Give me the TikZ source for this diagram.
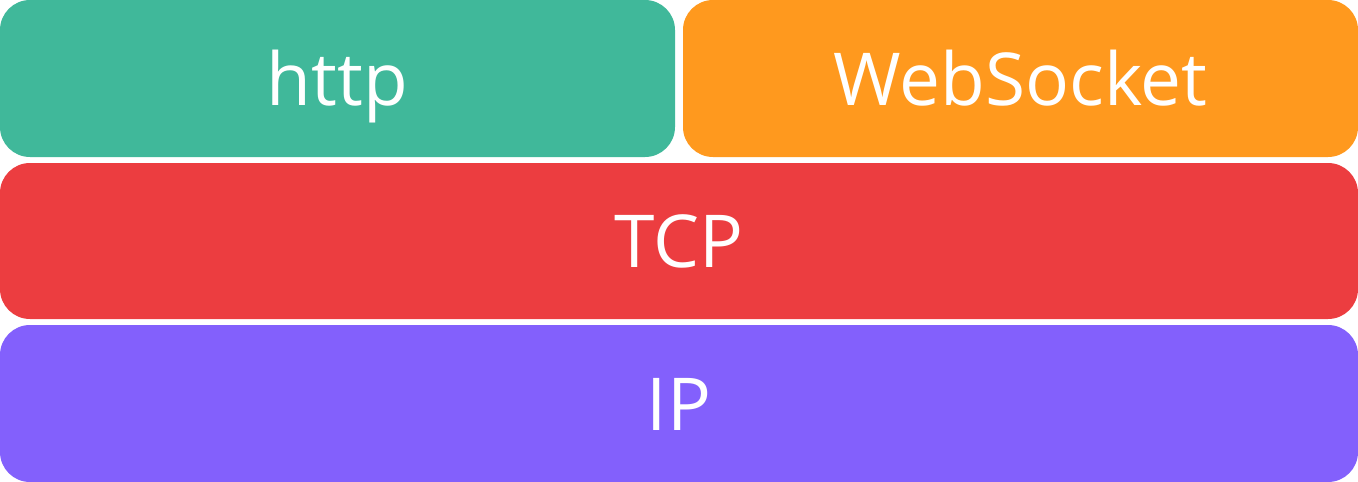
\documentclass[tikz,border=0pt]{standalone}
\usepackage{fontspec}
\setmainfont{Open Sans}
\definecolor{httpgreen}{RGB}{64,184,154}
\definecolor{wsorange}{RGB}{255,153,30}
\definecolor{tcpred}{RGB}{236,61,64}
\definecolor{ippurple}{RGB}{131,96,252}
\tikzset{
  layer/.style={rounded corners=30pt, draw=none},
  lbl/.style={anchor=base, text=white, font=\fontsize{73}{80}\selectfont, inner sep=0pt}
}
\begin{document}
\begin{tikzpicture}[x=1pt,y=-1pt]
\useasboundingbox (0,0) rectangle (1358,482);
\fill[layer, httpgreen] (0,0) rectangle (675,157);
\fill[layer, wsorange] (683,0) rectangle (1358,157);
\fill[layer, tcpred] (0,163) rectangle (1358,319);
\fill[layer, ippurple] (0,325) rectangle (1358,482);
\node[lbl] (http) at (337.5,105) {http};
\node[lbl] (ws) at (1020.5,105) {WebSocket};
\node[lbl] (tcp) at (679,267) {TCP};
\node[lbl] (ip) at (679,430) {IP};
\end{tikzpicture}
\end{document}
